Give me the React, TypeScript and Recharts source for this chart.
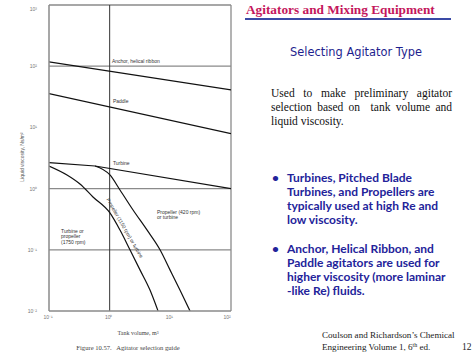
import React from 'react'
import { LineChart, Line, XAxis, YAxis, ReferenceLine, ReferenceDot } from 'recharts'

// curves (tank volume m³ vs viscosity Ns/m²)
const anchorRibbon = [
  { x: 0.1, y: 118 },
  { x: 100, y: 41 },
]
const paddle = [
  { x: 0.1, y: 35.6 },
  { x: 100, y: 7.9 },
]
const turbine = [
  { x: 0.1, y: 2.65 },
  { x: 0.573, y: 2.34 },
  { x: 100, y: 1.0 },
]
const propeller1150 = [
  { x: 0.1, y: 2.34 },
  { x: 0.198, y: 1.67 },
  { x: 0.324, y: 1.19 },
  { x: 0.531, y: 0.73 },
  { x: 1.01, y: 0.4 },
  { x: 1.48, y: 0.21 },
  { x: 2.16, y: 0.1 },
  { x: 3.16, y: 0.047 },
  { x: 4.62, y: 0.022 },
  { x: 6.27, y: 0.01 },
]
const propeller420 = [
  { x: 0.573, y: 2.34 },
  { x: 1.01, y: 1.67 },
  { x: 1.48, y: 0.95 },
  { x: 2.43, y: 0.447 },
  { x: 4.12, y: 0.211 },
  { x: 6.76, y: 0.1 },
  { x: 9.87, y: 0.047 },
  { x: 14.4, y: 0.022 },
  { x: 21.1, y: 0.01 },
]

const yTicks = [0.01, 0.1, 1, 10, 100, 1000]
const yTickLabels = ['10⁻²', '10⁻¹', '10⁰', '10¹', '10²', '10³']
const xTicks = [0.1, 1, 10, 100]
const xTickLabels = ['10⁻¹', '10⁰', '10¹', '10²']
const gridY = [1000, 100, 1, 0.1]
const gridX = [1, 100]

const notes = [
  { x: 1.09, y: 121, lines: ['Anchor, helical ribbon'] },
  { x: 1.13, y: 27, lines: ['Paddle'] },
  { x: 1.13, y: 2.62, lines: ['Turbine'] },
  { x: 6.03, y: 0.415, lines: ['Propeller (420 rpm)', 'or turbine'] },
  { x: 0.158, y: 0.203, lines: ['Turbine or', 'propeller', '(1750 rpm)'] },
]

const SANS = '"Liberation Sans", Arial, sans-serif'
const SERIF = '"Liberation Serif", "Times New Roman", serif'
const GREY = '#8a8a8a'

const Note = ({ viewBox, lines, rot = 0, centred = false }: any) => {
  const cx = viewBox.x + viewBox.width / 2
  const cy = viewBox.y + viewBox.height / 2
  return (
    <g transform={rot ? `rotate(${rot} ${cx} ${cy})` : undefined}>
      <text
        x={cx}
        y={cy}
        fontSize={5}
        fontFamily={SANS}
        fill="#333"
        textAnchor={centred ? 'middle' : 'start'}
        dominantBaseline="central"
      >
        {lines.map((l: string, i: number) => (
          <tspan key={i} x={cx} dy={i === 0 ? 0 : 5.5}>
            {l}
          </tspan>
        ))}
      </text>
    </g>
  )
}

const YTick = ({ x, y, payload }: any) => (
  <text x={x - 4} y={y} fontSize={5} fontFamily={SANS} fill="#777" textAnchor="end" dominantBaseline="central">
    {yTickLabels[yTicks.indexOf(payload.value)]}
  </text>
)

const XTick = ({ x, payload }: any) => (
  <text x={x - 1} y={317} fontSize={5} fontFamily={SANS} fill="#777" textAnchor="middle" dominantBaseline="central">
    {xTickLabels[xTicks.indexOf(payload.value)]}
  </text>
)

const AgitatorChart = () => (
  <LineChart width={240} height={320} margin={{ top: 5, right: 9, bottom: 0, left: 0 }}>
    <XAxis
      dataKey="x"
      type="number"
      scale="log"
      domain={[0.1, 100]}
      ticks={xTicks}
      allowDataOverflow
      height={9}
      tickLine={false}
      tick={<XTick />}
      axisLine={{ stroke: GREY, strokeWidth: 1.5 }}
    />
    <YAxis
      dataKey="y"
      type="number"
      scale="log"
      domain={[0.01, 1000]}
      ticks={yTicks}
      allowDataOverflow
      width={49}
      tickLine={false}
      tick={<YTick />}
      axisLine={{ stroke: GREY, strokeWidth: 1.5 }}
    />
    {gridY.map((v) => (
      <ReferenceLine key={`gy-${v}`} y={v} stroke={GREY} strokeWidth={1.3} />
    ))}
    {gridX.map((v) => (
      <ReferenceLine key={`gx-${v}`} x={v} stroke={v === 1 ? '#333' : GREY} strokeWidth={v === 1 ? 1 : 1.3} />
    ))}
    <Line data={anchorRibbon} dataKey="y" type="linear" stroke="#111" strokeWidth={1.2} dot={false} isAnimationActive={false} />
    <Line data={paddle} dataKey="y" type="linear" stroke="#111" strokeWidth={1.2} dot={false} isAnimationActive={false} />
    <Line data={turbine} dataKey="y" type="linear" stroke="#111" strokeWidth={1.2} dot={false} isAnimationActive={false} />
    <Line data={propeller1150} dataKey="y" type="monotone" stroke="#111" strokeWidth={1.2} dot={false} isAnimationActive={false} />
    <Line data={propeller420} dataKey="y" type="monotone" stroke="#111" strokeWidth={1.2} dot={false} isAnimationActive={false} />
    {notes.map((n, i) => (
      <ReferenceDot key={`n-${i}`} x={n.x} y={n.y} r={0} fill="none" stroke="none" label={<Note lines={n.lines} />} />
    ))}
    <ReferenceDot
      x={1.79}
      y={0.227}
      r={0}
      fill="none"
      stroke="none"
      label={<Note lines={['Propeller (1150 rpm) or turbine']} rot={60} centred />}
    />
  </LineChart>
)

const bulletStyle: React.CSSProperties = { position: 'absolute', left: 0, width: 15 }

export default function App() {
  return (
    <div style={{ position: 'absolute', left: 0, top: 0, width: 474, height: 355, background: '#fff', overflow: 'hidden' }}>
      <div style={{ position: 'absolute', left: 0, top: 0 }}>
        <AgitatorChart />
      </div>
      <div
        style={{
          position: 'absolute',
          left: 22,
          top: 157,
          transform: 'translate(-50%, -50%) rotate(-90deg)',
          fontFamily: SANS,
          fontSize: 5,
          color: '#555',
          whiteSpace: 'nowrap',
        }}
      >
        Liquid viscosity, Ns/m²
      </div>
      <div style={{ position: 'absolute', left: 138, top: 333, transform: 'translate(-50%, -50%)', fontFamily: SERIF, fontSize: 6, color: '#444', whiteSpace: 'nowrap' }}>
        Tank volume, m³
      </div>
      <div style={{ position: 'absolute', left: 128, top: 347, transform: 'translate(-50%, -50%)', fontFamily: SERIF, fontSize: 6.6, color: '#444', whiteSpace: 'nowrap' }}>
        Figure 10.57.&nbsp;&nbsp; Agitator selection guide
      </div>

      <div style={{ position: 'absolute', left: 246, top: 2, fontFamily: SERIF, fontWeight: 'bold', fontSize: 13.3, color: '#c4165c', whiteSpace: 'nowrap', lineHeight: '16px' }}>
        Agitators and Mixing Equipment
      </div>
      <div style={{ position: 'absolute', left: 245, top: 18, width: 206, height: 2, background: '#3a4aa6' }} />
      <div style={{ position: 'absolute', left: 356, top: 52, transform: 'translate(-50%, -50%)', fontFamily: '"DejaVu Sans", sans-serif', fontSize: 11.4, color: '#1e1e8e', whiteSpace: 'nowrap' }}>
        Selecting Agitator Type
      </div>
      <div style={{ position: 'absolute', left: 271, top: 86, width: 181, fontFamily: SERIF, fontSize: 11.5, lineHeight: '14px', color: '#111', textAlign: 'justify', textAlignLast: 'left' as any }}>
        Used to make preliminary agitator selection based on&nbsp; tank volume and liquid viscosity.
      </div>
      <div style={{ position: 'absolute', left: 272, top: 171, width: 200, fontFamily: 'Lato, sans-serif', fontWeight: 'bold', fontSize: 12, lineHeight: '14px', color: '#23239a', whiteSpace: 'nowrap' }}>
        <div style={{ position: 'relative', paddingLeft: 15 }}>
          <span style={bulletStyle}>•</span>
          Turbines, Pitched Blade
          <br />
          Turbines, and Propellers are
          <br />
          typically used at high Re and
          <br />
          low viscosity.
        </div>
        <div style={{ position: 'relative', paddingLeft: 15, marginTop: 15 }}>
          <span style={bulletStyle}>•</span>
          Anchor, Helical Ribbon, and
          <br />
          Paddle agitators are used for
          <br />
          higher viscosity (more laminar
          <br />
          -like Re) fluids.
        </div>
      </div>
      <div style={{ position: 'absolute', left: 322, top: 329, fontFamily: SERIF, fontSize: 9.1, lineHeight: '12px', color: '#222', whiteSpace: 'nowrap' }}>
        Coulson and Richardson’s Chemical
        <br />
        Engineering Volume 1, 6
        <span style={{ fontSize: 6, lineHeight: 0, position: 'relative', top: -3.5 }}>th</span> ed.
      </div>
      <div style={{ position: 'absolute', left: 462, top: 341, fontFamily: SERIF, fontSize: 9.5, lineHeight: '12px', color: '#222' }}>12</div>
    </div>
  )
}
